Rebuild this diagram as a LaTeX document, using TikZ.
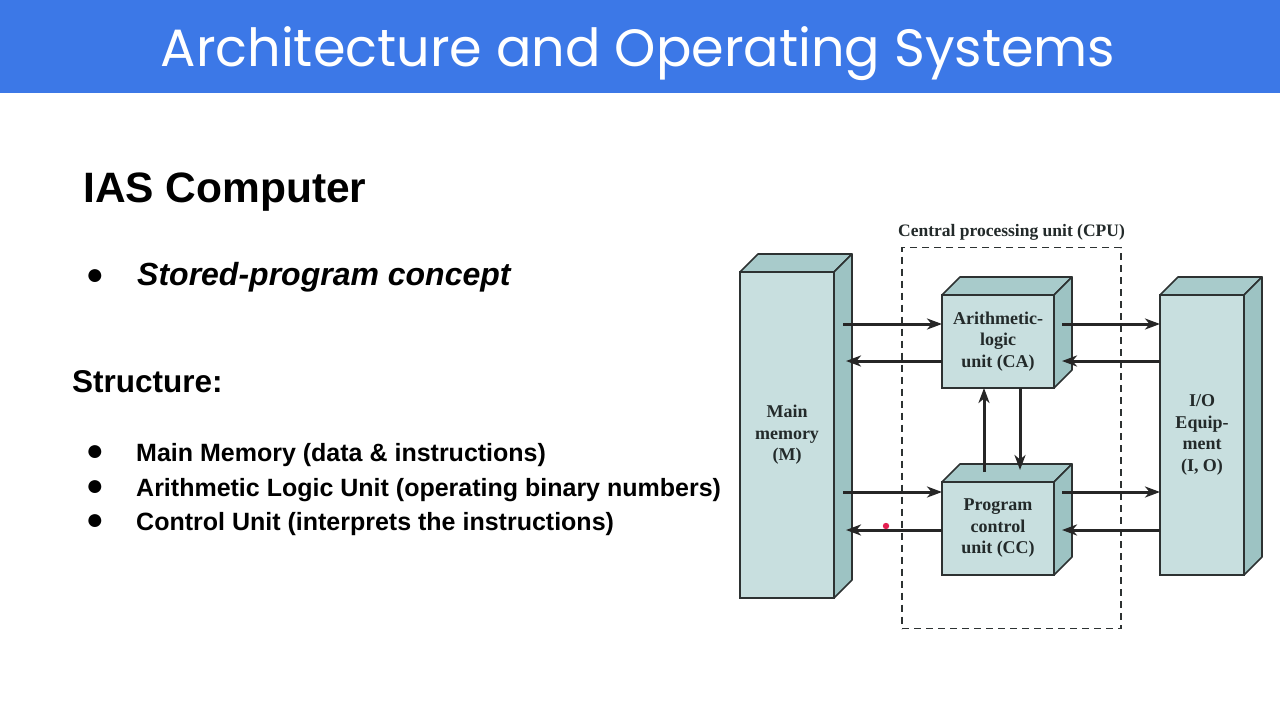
\documentclass[tikz,border=0pt]{standalone}
\usepackage{xcolor}
\usepackage{fontspec}
\setmainfont{Liberation Sans}
\newfontfamily\boxfont{Liberation Serif}
\newfontfamily\titlefont{Poppins}
\usepackage{tikz}
\usetikzlibrary{positioning, arrows.meta}

\definecolor{slideblue}{RGB}{60,120,231}
\definecolor{frontface}{RGB}{200,223,223}
\definecolor{topface}{RGB}{168,203,203}
\definecolor{sideface}{RGB}{157,195,195}
\definecolor{edgegray}{RGB}{45,50,50}
\definecolor{boxtext}{RGB}{35,42,42}
\definecolor{pointer}{RGB}{228,30,80}

\begin{document}
\begin{tikzpicture}[x=1pt, y=-1pt,
    unitbox/.style={rectangle, draw=edgegray, line width=1.6pt, fill=frontface, inner sep=0pt, outer sep=0pt,
        align=center, text=boxtext, font=\boxfont\bfseries\fontsize{18}{21.5}\selectfont},
    cubetop/.style={draw=edgegray, line width=1.6pt, fill=topface, line join=round},
    cubeside/.style={draw=edgegray, line width=1.6pt, fill=sideface, line join=round},
    arr/.style={-{Stealth[length=15pt, width=11pt, inset=4.5pt]}, line width=3pt, draw=black!85},
    heading/.style={anchor=base west, inner sep=0pt, font=\bfseries\fontsize{42.5}{50}\selectfont},
    item/.style={anchor=base west, inner sep=0pt, font=\bfseries\fontsize{25}{30}\selectfont},
    bullet/.style={inner sep=0pt, font=\fontsize{30}{30}\selectfont}]

    \useasboundingbox (0,0) rectangle (1280,720);
    \fill[white] (0,0) rectangle (1280,720);
    \fill[slideblue] (0,0) rectangle (1280,93);
    \node (title) [anchor=base, text=white, font=\titlefont\fontsize{52.5}{60}\selectfont] at (638,66) {Architecture and Operating Systems};

    % slide text
    \node (ias) [heading] at (83,202) {IAS Computer};
    \node (b0) [bullet] at (95,277) {●};
    \node (concept) [item, font=\bfseries\itshape\fontsize{32}{36}\selectfont] at (137,285) {Stored-program concept};
    \node (structure) [heading, font=\bfseries\fontsize{31.5}{36}\selectfont] at (72,392) {Structure:};
    \node (b1) [bullet] at (95,453) {●};
    \node (mainmem) [item] at (136,461) {Main Memory (data \& instructions)};
    \node (b2) [bullet] at (95,488) {●};
    \node (alutext) [item] at (136,496) {Arithmetic Logic Unit (operating binary numbers)};
    \node (b3) [bullet] at (95,522) {●};
    \node (cutext) [item] at (136,530) {Control Unit (interprets the instructions)};

    % IAS structure
    \node (cpu) [rectangle, draw=edgegray, dash pattern=on 7pt off 5pt, line width=1.4pt, inner sep=0pt, outer sep=0pt,
        minimum width=219pt, minimum height=381pt] at (1011.5,438) {};
    \node (cpulabel) [above=7pt of cpu, inner sep=0pt, text=boxtext, font=\boxfont\bfseries\fontsize{17.5}{20}\selectfont] {Central processing unit (CPU)};

    \node (mem) [unitbox, minimum width=94pt, minimum height=326pt] at (787,435) {Main\\memory\\(M)};
    \node (alu) [unitbox, minimum width=112pt, minimum height=93pt] at (998,341.5) {Arithmetic-\\logic\\unit (CA)};
    \node (pcu) [unitbox, minimum width=112pt, minimum height=93pt, below=94pt of alu] {Program\\control\\unit (CC)};
    \node (io) [unitbox, minimum width=84pt, minimum height=280pt] at (1202,435) {I/O\\Equip-\\ment\\(I, O)};

    \foreach \blk in {mem, alu, pcu, io} {
        \filldraw[cubetop] (\blk.north west) -- ++(18,-18) -- ([shift={(18,-18)}]\blk.north east) -- (\blk.north east) -- cycle;
        \filldraw[cubeside] (\blk.north east) -- ++(18,-18) -- ([shift={(18,-18)}]\blk.south east) -- (\blk.south east) -- cycle;
    }

    \coordinate (r1) at (0,324);
    \coordinate (r2) at (0,361);
    \coordinate (r3) at (0,492);
    \coordinate (r4) at (0,530);

    \draw[arr, shorten <=9pt] (r1 -| mem.east) -- (r1 -| alu.west);
    \draw[arr, shorten >=12pt] (r2 -| alu.west) -- (r2 -| mem.east);
    \draw[arr, shorten <=8pt] (r1 -| alu.east) -- (r1 -| io.west);
    \draw[arr, shorten >=8pt] (r2 -| io.west) -- (r2 -| alu.east);
    \draw[arr, shorten <=9pt] (r3 -| mem.east) -- (r3 -| pcu.west);
    \draw[arr, shorten >=12pt] (r4 -| pcu.west) -- (r4 -| mem.east);
    \draw[arr, shorten <=8pt] (r3 -| pcu.east) -- (r3 -| io.west);
    \draw[arr, shorten >=8pt] (r4 -| io.west) -- (r4 -| pcu.east);
    \draw[arr, shorten <=10pt] ([xshift=-14pt]pcu.north) -- ([xshift=-14pt]alu.south);
    \draw[arr, shorten >=12pt] ([xshift=22pt]alu.south) -- ([xshift=22pt]pcu.north);

    \fill[pointer] (886,526) circle (3.2);
\end{tikzpicture}
\end{document}
